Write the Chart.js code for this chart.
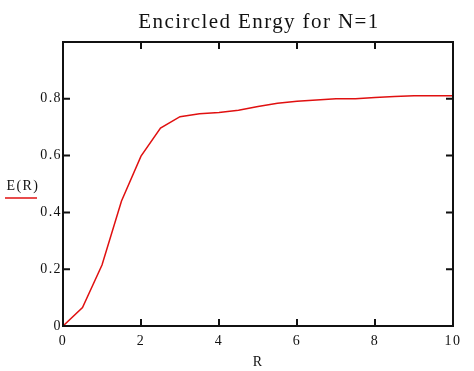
<html>
<head>
<script src="https://cdn.jsdelivr.net/npm/chart.js@4"></script>
<style>
body{margin:0;background:#fff;}
#wrap{width:474px;height:371px;}
</style>
</head>
<body>
<div id="wrap"><canvas id="enc"></canvas></div>
<script>
// values
var radius = [0,0.5,1,1.5,2,2.5,3,3.5,4,4.5,5,5.5,6,6.5,7,7.5,8,8.5,9,9.5,10];
var energy = [0,0.065,0.215,0.44,0.598,0.697,0.737,0.747,0.752,0.76,0.773,0.784,0.791,0.796,0.8,0.8,0.805,0.808,0.811,0.811,0.811];
var xTicks = [0,2,4,6,8,10];
var yTicks = [0,0.2,0.4,0.6,0.8];
var titleText = 'Encircled Enrgy for N=1';

var serif = "'Liberation Serif','DejaVu Serif',serif";
var pts = radius.map(function(r,i){return {x:r,y:energy[i]};});

// frame with inward ticks on all sides, title centred over the plot, little legend on the left
var frame = {
  id:'frame',
  beforeDraw:function(c){ c.ctx.letterSpacing='1.4px'; },
  afterDraw:function(c){
    var g=c.ctx, a=c.chartArea, xs=c.scales.x, ys=c.scales.y, L=7;
    g.save();
    g.strokeStyle='#111';
    g.lineWidth=2;
    g.strokeRect(a.left,a.top,a.right-a.left,a.bottom-a.top);
    g.beginPath();
    xTicks.forEach(function(v){
      var px=xs.getPixelForValue(v);
      g.moveTo(px,a.bottom);g.lineTo(px,a.bottom-L);
      g.moveTo(px,a.top);g.lineTo(px,a.top+L);
    });
    yTicks.forEach(function(v){
      var py=ys.getPixelForValue(v);
      g.moveTo(a.left,py);g.lineTo(a.left+L,py);
      g.moveTo(a.right,py);g.lineTo(a.right-L,py);
    });
    g.stroke();
    g.fillStyle='#111';
    g.textAlign='center';
    g.textBaseline='middle';
    g.font='21px '+serif;
    g.fillText(titleText,(a.left+a.right)/2+1,22);
    g.font='14px '+serif;
    g.fillText('E(R)',23,186);
    g.strokeStyle='#e01010';
    g.lineWidth=1.5;
    g.beginPath();g.moveTo(5,198);g.lineTo(37,198);g.stroke();
    g.restore();
    g.letterSpacing='0px';
  }
};

new Chart(document.getElementById('enc'),{
  type:'line',
  data:{datasets:[{
    label:'E(R)',
    data:pts,
    borderColor:'#e01010',
    borderWidth:1.5,
    pointRadius:0,
    tension:0,
    fill:false
  }]},
  options:{
    responsive:true,
    maintainAspectRatio:false,
    animation:false,
    layout:{padding:{left:0,right:21,top:42,bottom:0}},
    plugins:{
      legend:{display:false},
      tooltip:{enabled:false},
      title:{display:false}
    },
    scales:{
      x:{
        type:'linear',min:0,max:10,
        afterFit:function(s){s.height=45;},
        grid:{display:false,drawTicks:false},
        border:{display:false},
        ticks:{stepSize:2,padding:7,color:'#111',maxRotation:0,font:{family:serif,size:14}},
        title:{display:true,text:'R',color:'#111',font:{family:serif,size:14},padding:{top:4,bottom:0}}
      },
      y:{
        min:0,max:1,
        afterFit:function(s){s.width=63;},
        grid:{display:false,drawTicks:false},
        border:{display:false},
        ticks:{stepSize:0.2,padding:1,color:'#111',font:{family:serif,size:14},
          callback:function(v){return v>0.9?'':Math.round(v*10)/10;}}
      }
    }
  },
  plugins:[frame]
});
</script>
</body>
</html>
